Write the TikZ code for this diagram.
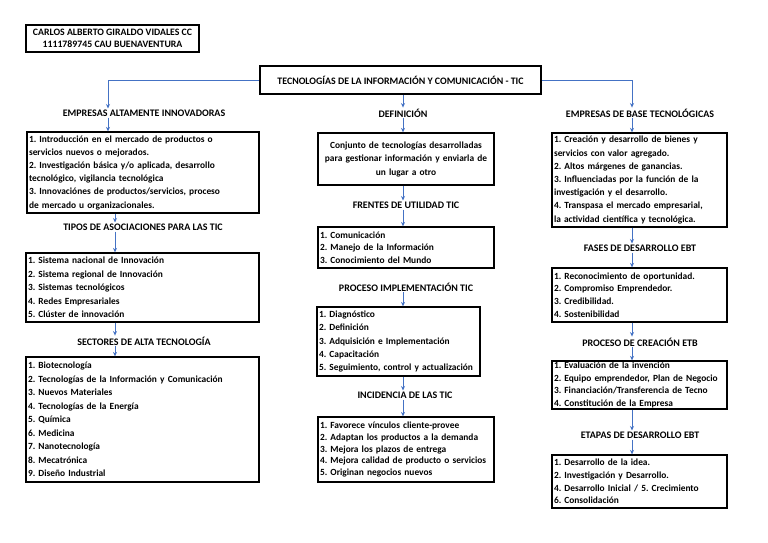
\documentclass[tikz,border=0pt]{standalone}
\usepackage{fontspec}
\setmainfont{Carlito}
\usetikzlibrary{arrows.meta}
\definecolor{arrowblue}{HTML}{4472C4}
\newcommand{\bodyfs}[1]{\fontsize{9.4}{#1}\selectfont\bfseries\frenchspacing}
\tikzset{
  boxnode/.style={draw, line width=1.3pt, inner xsep=2pt, inner ysep=0pt, align=left, anchor=center},
  lab/.style={inner sep=1pt, font=\fontsize{10}{11}\selectfont\bfseries},
  arr/.style={draw=arrowblue, line width=0.9pt, -{Stealth[length=4.5pt,width=4pt]}},
}
\begin{document}
\begin{tikzpicture}[x=1pt,y=-1pt]
\useasboundingbox (0,0) rectangle (768,543);
\fill[white] (0,0) rectangle (768,543);

% header
\node[boxnode, line width=1.8pt, align=center, minimum width=173pt, minimum height=27pt, font=\fontsize{9.8}{12}\selectfont\bfseries] (author) at (112.5,38.5)
  {CARLOS ALBERTO GIRALDO VIDALES CC\\1111789745 CAU BUENAVENTURA};
\node[boxnode, line width=1.8pt, align=center, minimum width=281pt, minimum height=28pt, font=\fontsize{9.9}{11}\selectfont\bfseries] (title) at (400.5,80)
  {TECNOLOGÍAS DE LA INFORMACIÓN Y COMUNICACIÓN - TIC};

% left column
\node[lab] (l1) at (144,113) {EMPRESAS ALTAMENTE INNOVADORAS};
\node[boxnode, text width=228pt, minimum height=81pt, font=\bodyfs{13.2}] (b1) at (143,172.5)
  {1. Introducción en el mercado de productos o\\
   servicios nuevos o mejorados.\\
   2. Investigación básica y/o aplicada, desarrollo\\
   tecnológico, vigilancia tecnológica\\
   3. Innovaciónes de productos/servicios, proceso\\
   de mercado u organizacionales.};
\node[lab] (l2) at (143,227) {TIPOS DE ASOCIACIONES PARA LAS TIC};
\node[boxnode, text width=229pt, minimum height=69pt, font=\bodyfs{13.5}] (b2) at (142.5,287.5)
  {1. Sistema nacional de Innovación\\
   2. Sistema regional de Innovación\\
   3. Sistemas tecnológicos\\
   4. Redes Empresariales\\
   5. Clúster de innovación};
\node[lab] (l3) at (144,341) {SECTORES DE ALTA TECNOLOGÍA};
\node[boxnode, text width=229pt, minimum height=125pt, font=\bodyfs{13.5}] (b3) at (142.5,419.5)
  {1. Biotecnología\\
   2. Tecnologías de la Información y Comunicación\\
   3. Nuevos Materiales\\
   4. Tecnologías de la Energía\\
   5. Química\\
   6. Medicina\\
   7. Nanotecnología\\
   8. Mecatrónica\\
   9. Diseño Industrial};

% middle column
\node[lab] (m0) at (403,113) {DEFINICIÓN};
\node[boxnode, align=center, text width=172pt, minimum height=52pt, font=\bodyfs{13.5}] (m1) at (406,159)
  {Conjunto de tecnologías desarrolladas\\
   para gestionar información y enviarla de\\
   un lugar a otro};
\node[lab] (ml2) at (406,205) {FRENTES DE UTILIDAD TIC};
\node[boxnode, text width=172pt, minimum height=41pt, font=\bodyfs{12.5}] (m2) at (406,247.5)
  {1. Comunicación\\
   2. Manejo de la Información\\
   3. Conocimiento del Mundo};
\node[lab] (ml3) at (406,287) {PROCESO IMPLEMENTACIÓN TIC};
\node[boxnode, text width=159pt, minimum height=69pt, font=\bodyfs{13.2}] (m3) at (398.5,341.5)
  {1. Diagnóstico\\
   2. Definición\\
   3. Adquisición e Implementación\\
   4. Capacitación\\
   5. Seguimiento, control y actualización};
\node[lab] (ml4) at (405,395) {INCIDENCIA DE LAS TIC};
\node[boxnode, text width=172pt, minimum height=65pt, font=\bodyfs{11.6}] (m4) at (406,449.5)
  {1. Favorece vínculos cliente-provee\\
   2. Adaptan los productos a la demanda\\
   3. Mejora los plazos de entrega\\
   4. Mejora calidad de producto o servicios\\
   5. Originan negocios nuevos};

% right column
\node[lab] (r0) at (640,113) {EMPRESAS DE BASE TECNOLÓGICAS};
\node[boxnode, text width=171pt, minimum height=94pt, font=\bodyfs{13.2}] (r1) at (639.5,180)
  {1. Creación y desarrollo de bienes y\\
   servicios con valor agregado.\\
   2. Altos márgenes de ganancias.\\
   3. Influenciadas por la función de la\\
   investigación y el desarrollo.\\
   4. Transpasa el mercado empresarial,\\
   la actividad científica y tecnológica.};
\node[lab] (rl2) at (640,248) {FASES DE DESARROLLO EBT};
\node[boxnode, text width=171pt, minimum height=54pt, font=\bodyfs{12.7}] (r2) at (639.5,295)
  {1. Reconocimiento de oportunidad.\\
   2. Compromiso Emprendedor.\\
   3. Credibilidad.\\
   4. Sostenibilidad};
\node[lab] (rl3) at (640,342) {PROCESO DE CREACIÓN ETB};
\node[boxnode, text width=171pt, minimum height=48pt, font=\bodyfs{12.6}] (r3) at (639.5,385)
  {1. Evaluación de la invención\\
   2. Equipo emprendedor, Plan de Negocio\\
   3. Financiación/Transferencia de Tecno\\
   4. Constitución de la Empresa};
\node[lab] (rl4) at (640,435) {ETAPAS DE DESARROLLO EBT};
\node[boxnode, text width=171pt, minimum height=53pt, font=\bodyfs{12.7}] (r4) at (639.5,481.5)
  {1. Desarrollo de la idea.\\
   2. Investigación y Desarrollo.\\
   4. Desarrollo Inicial / 5. Crecimiento\\
   6. Consolidación};

% column axes
\coordinate (xl0) at (108,0);
\coordinate (xl) at (115,0);
\coordinate (xm) at (403,0);
\coordinate (xr) at (632,0);

% connectors
\draw[arr] (title.west) -| (l1.north -| xl0);
\draw[arr] (title.east) -| (r0.north -| xr);
\draw[arr] (title.south -| xm) -- (m0.north -| xm);

\draw[arr] (l1.south -| xl0) -- (b1.north -| xl0);
\draw[arr] (b1.south -| xl) -- (l2.north -| xl);
\draw[arr] (l2.south -| xl) -- (b2.north -| xl);
\draw[arr] (b2.south -| xl) -- (l3.north -| xl);
\draw[arr] (l3.south -| xl) -- (b3.north -| xl);

\draw[arr] (m0.south -| xm) -- (m1.north -| xm);
\draw[arr] (m1.south -| xm) -- (ml2.north -| xm);
\draw[arr] (ml2.south -| xm) -- (m2.north -| xm);
\draw[arr] (ml3.south -| xm) -- (m3.north -| xm);
\draw[arr] (m3.south -| xm) -- (ml4.north -| xm);
\draw[arr] (ml4.south -| xm) -- (m4.north -| xm);

\draw[arr] (r0.south -| xr) -- (r1.north -| xr);
\draw[arr] (r1.south -| xr) -- (rl2.north -| xr);
\draw[arr] (rl2.south -| xr) -- (r2.north -| xr);
\draw[arr] (r2.south -| xr) -- (rl3.north -| xr);
\draw[arr] (rl3.south -| xr) -- (r3.north -| xr);
\draw[arr] (r3.south -| xr) -- (rl4.north -| xr);
\draw[arr] (rl4.south -| xr) -- (r4.north -| xr);
\end{tikzpicture}
\end{document}
